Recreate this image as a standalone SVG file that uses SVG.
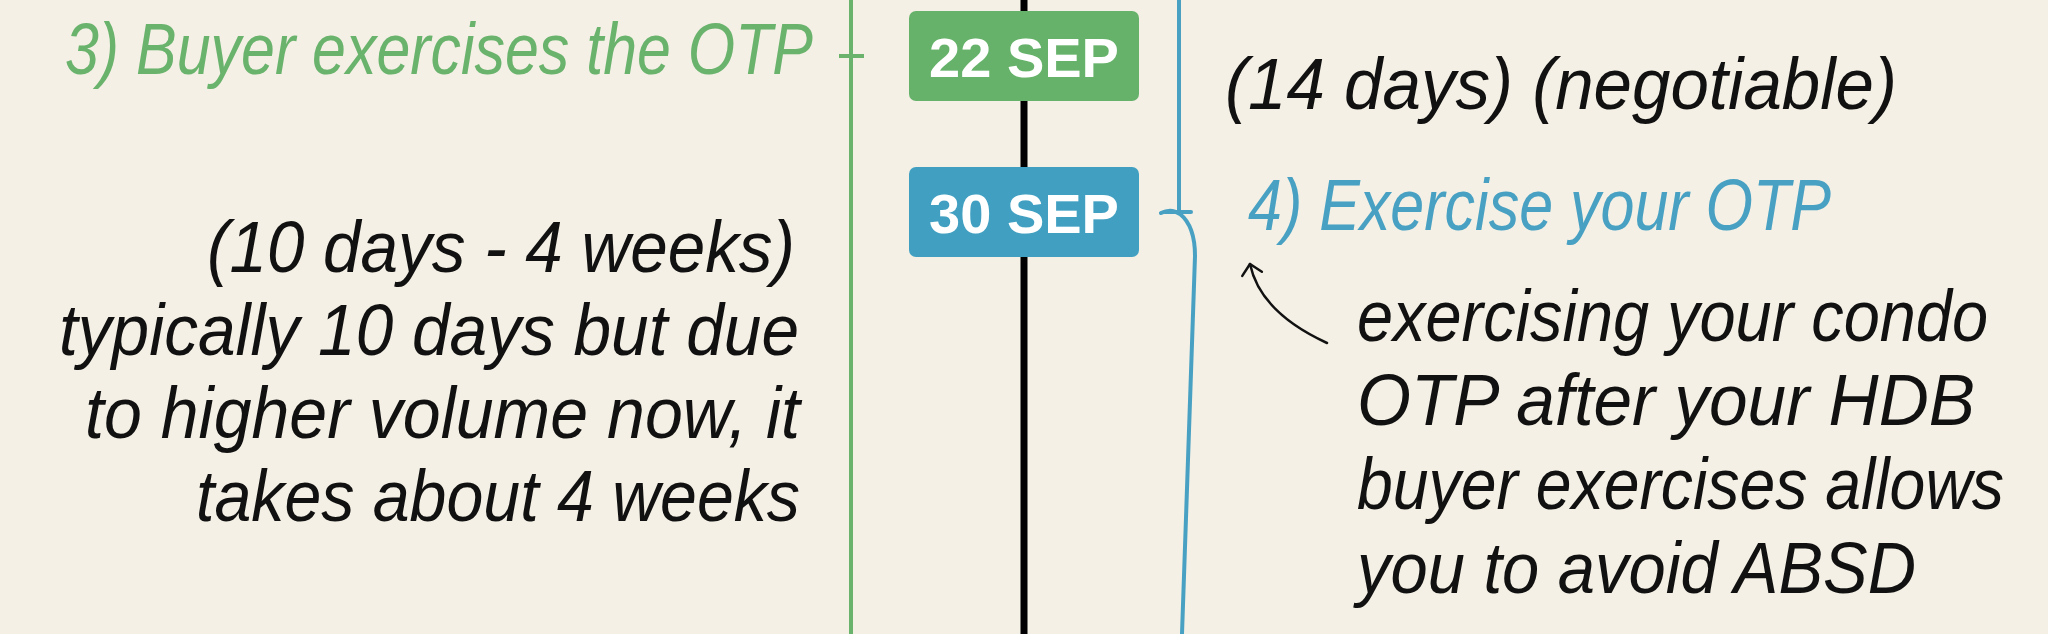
<svg xmlns="http://www.w3.org/2000/svg" width="2048" height="634" viewBox="0 0 2048 634">
  <defs>
    <style>
      .hand { font-family: "Liberation Sans", "DejaVu Sans", sans-serif; font-style: italic; font-size: 62px; }
      .black { fill: #111111; }
      .green { fill: #6AB36D; }
      .blue { fill: #48A1C3; }
      .date { font-family: "Liberation Sans", Arial, sans-serif; font-weight: bold; font-size: 56px; fill: #FFFFFF; text-anchor: middle; }
      .gline { stroke: #6AB36D; stroke-width: 4; fill: none; }
      .bline { stroke: #48A1C3; stroke-width: 4; fill: none; stroke-linecap: round; }
      .kline { stroke: #000000; stroke-width: 7; fill: none; }
      .arrow { stroke: #111111; stroke-width: 2.5; fill: none; stroke-linecap: round; }
    </style>
    <marker id="openhead" viewBox="0 0 24 24" refX="12" refY="12" markerWidth="24" markerHeight="24" markerUnits="userSpaceOnUse" orient="auto">
      <path d="M2,2 L12,12 L2,22" fill="none" stroke="#111111" stroke-width="2.5" stroke-linecap="round" stroke-linejoin="round"/>
    </marker>
  </defs>

  <rect x="0" y="0" width="2048" height="634" fill="#F4F0E5"/>

  <g id="connectors">
    <line class="gline" x1="851" y1="0" x2="851" y2="634"/>
    <line class="gline" x1="839" y1="56" x2="864" y2="56"/>
    <line class="kline" x1="1024" y1="0" x2="1024" y2="634"/>
    <line class="bline" x1="1179" y1="0" x2="1179" y2="212"/>
    <line class="bline" x1="1165" y1="212" x2="1191" y2="212"/>
    <path class="bline" d="M1161,213 Q1171,208 1180,214 Q1195,226 1195,256 L1182,634"/>
    <path class="arrow" d="M1327,343 C1290,326 1258,302 1250,264" marker-end="url(#openhead)"/>
  </g>

  <g id="node-22sep">
    <rect x="909" y="11" width="230" height="90" rx="7" fill="#66B26A"/>
    <text class="date" x="1024" y="77">22 SEP</text>
  </g>

  <g id="node-30sep">
    <rect x="909" y="167" width="230" height="90" rx="7" fill="#41A0C2"/>
    <text class="date" x="1024" y="233">30 SEP</text>
  </g>

  <g id="label-step3">
    <text class="hand green" transform="translate(65,74) scale(1,1.17)" x="0" y="0" textLength="748" lengthAdjust="spacingAndGlyphs">3) Buyer exercises the OTP</text>
  </g>

  <g id="label-step3-duration">
    <text class="hand black" transform="translate(207,272) scale(1,1.17)" x="0" y="0" textLength="588" lengthAdjust="spacingAndGlyphs">(10 days - 4 weeks)</text>
    <text class="hand black" transform="translate(59,355) scale(1,1.17)" x="0" y="0" textLength="740" lengthAdjust="spacingAndGlyphs">typically 10 days but due</text>
    <text class="hand black" transform="translate(85,438) scale(1,1.17)" x="0" y="0" textLength="715" lengthAdjust="spacingAndGlyphs">to higher volume now, it</text>
    <text class="hand black" transform="translate(196,521) scale(1,1.17)" x="0" y="0" textLength="604" lengthAdjust="spacingAndGlyphs">takes about 4 weeks</text>
  </g>

  <g id="label-otp-duration">
    <text class="hand black" transform="translate(1225,109) scale(1,1.17)" x="0" y="0" textLength="672" lengthAdjust="spacingAndGlyphs">(14 days) (negotiable)</text>
  </g>

  <g id="label-step4">
    <text class="hand blue" transform="translate(1248,230) scale(1,1.17)" x="0" y="0" textLength="583" lengthAdjust="spacingAndGlyphs">4) Exercise your OTP</text>
  </g>

  <g id="label-note">
    <text class="hand black" transform="translate(1357,341) scale(1,1.17)" x="0" y="0" textLength="631" lengthAdjust="spacingAndGlyphs">exercising your condo</text>
    <text class="hand black" transform="translate(1357,425) scale(1,1.17)" x="0" y="0" textLength="618" lengthAdjust="spacingAndGlyphs">OTP after your HDB</text>
    <text class="hand black" transform="translate(1357,509) scale(1,1.17)" x="0" y="0" textLength="647" lengthAdjust="spacingAndGlyphs">buyer exercises allows</text>
    <text class="hand black" transform="translate(1357,593) scale(1,1.17)" x="0" y="0" textLength="559" lengthAdjust="spacingAndGlyphs">you to avoid ABSD</text>
  </g>
</svg>
